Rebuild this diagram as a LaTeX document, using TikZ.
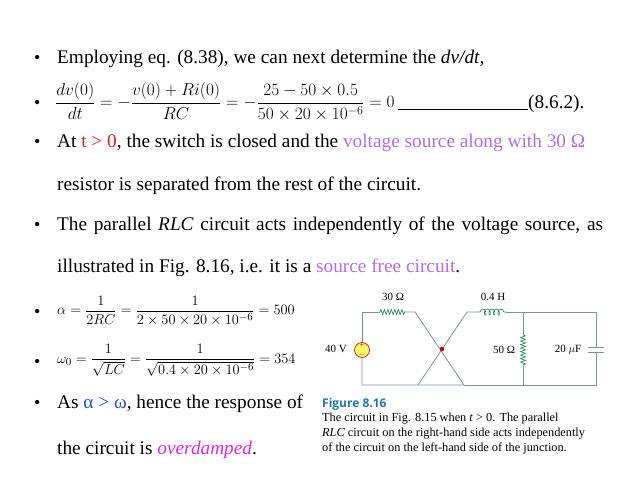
\documentclass[tikz,border=0pt]{standalone}
\usepackage{fontspec}
\setmainfont{Liberation Serif}
\newfontfamily\capsans{Open Sans}
\usetikzlibrary{decorations.pathmorphing}
\definecolor{redc}{RGB}{220,30,40}
\definecolor{bluec}{RGB}{40,80,200}
\definecolor{magc}{RGB}{220,40,220}
\definecolor{violc}{RGB}{175,110,225}
\definecolor{wirec}{RGB}{120,145,170}
\definecolor{resc}{RGB}{40,140,90}
\definecolor{figc}{RGB}{30,120,160}
\begin{document}
\begin{tikzpicture}[x=1pt,y=-1pt,
  txt/.style={anchor=base west,inner sep=0pt,font=\fontsize{19.3}{21}\selectfont},
  bul/.style={anchor=base west,inner sep=0pt,font=\fontsize{18}{20}\selectfont},
  eq/.style={anchor=west,inner sep=0pt,font=\fontsize{15}{17}\selectfont},
  wire/.style={draw=wirec,line width=0.8pt},
  zig/.style={draw=resc,line width=0.7pt,decorate,decoration={zigzag,segment length=3.5pt,amplitude=2.5pt}},
  lab/.style={inner sep=0pt,font=\fontsize{11}{12}\selectfont},
  captxt/.style={anchor=base west,inner sep=0pt,font=\fontsize{12.3}{13}\selectfont}]
\useasboundingbox (0,0) rectangle (638,493);
% bullets
\foreach \n/\y in {b1/63,b2/108,b3/147,b4/230,b5/317,b6/367,b7/408}{\node[bul] (\n) at (34,\y) {•};}
\node[txt] (t1) at (57,63) {Employing eq. (8.38), we can next determine the \textit{dv/dt,}};
\node[eq,font=\fontsize{17.5}{19}\selectfont] (e1) at (55,102) {$\displaystyle\frac{dv(0)}{dt}=-\frac{v(0)+Ri(0)}{RC}=-\frac{25-50\times0.5}{50\times20\times10^{-6}}=0$};
\node[txt] (t2) at (398,108) {\underline{\hspace{130pt}}(8.6.2).};
\node[txt] (t3) at (57,147) {At \textcolor{redc}{t > 0}, the switch is closed and the \textcolor{violc}{voltage source along with 30 Ω}};
\node[txt] (t4) at (57,190) {resistor is separated from the rest of the circuit.};
\node[txt] (t5) at (57,230) {\makebox[546pt][s]{The parallel \textit{RLC} circuit acts independently of the voltage source, as}};
\node[txt] (t6) at (57,272) {illustrated in Fig. 8.16, i.e. it is a \textcolor{violc}{source free circuit}.};
\node[eq] (e2) at (57,311) {$\displaystyle\alpha=\frac{1}{2RC}=\frac{1}{2\times50\times20\times10^{-6}}=500$};
\node[eq] (e3) at (57,360) {$\displaystyle\omega_0=\frac{1}{\sqrt{LC}}=\frac{1}{\sqrt{0.4\times20\times10^{-6}}}=354$};
\node[txt] (t7) at (57,408) {As \textcolor{bluec}{α > ω}, hence the response of};
\node[txt] (t8) at (57,454) {the circuit is \textit{\textcolor{magc}{overdamped}}.};
% circuit
\coordinate (tl) at (362,312); \coordinate (bl) at (362,385);
\coordinate (r1a) at (380,312); \coordinate (r1b) at (405,312);
\coordinate (xa) at (415,312); \coordinate (xb) at (418,385);
\coordinate (xc) at (467,312); \coordinate (xd) at (464,385);
\coordinate (la) at (480,312); \coordinate (lb) at (506,312);
\coordinate (n1) at (523,312); \coordinate (n2) at (523,385);
\coordinate (c1) at (596,312); \coordinate (c2) at (596,385);
\node[circle,draw=red!70!black,fill=yellow!60,minimum size=15pt,inner sep=0pt,line width=0.6pt] (src) at (362,350) {};
\node[lab,red!70!black,font=\fontsize{8}{8}\selectfont] (sp) at (362,345) {+};
\node[lab,red!70!black,font=\fontsize{8}{8}\selectfont] (sm) at (362,355) {--};
\path[wire] (src.north) -- (tl) -- (r1a);
\path[zig] (r1a) -- (r1b);
\path[wire] (r1b) -- (xa) -- (xd) -- (xb) -- (bl) -- (src.south);
\path[wire] (xb) -- (xc) -- (la);
\draw[resc,line width=0.7pt,decorate,decoration={coil,aspect=0.6,segment length=4.5pt,amplitude=3pt}] (la) -- (lb);
\path[wire] (lb) -- (c1) -- (596,347.5);
\path[wire] (596,352.5) -- (c2) -- (xd);
\draw[wirec,line width=1pt] (588,347.5) -- (604,347.5) (588,352.5) -- (604,352.5);
\path[wire] (n1) -- (523,335); \path[zig] (523,335) -- (523,366); \path[wire] (523,366) -- (n2);
\node[circle,fill=red!80!black,inner sep=0pt,minimum size=4.5pt] (jn) at (442,349) {};
\node[lab] (l1) at (393,297) {30 Ω};
\node[lab] (l2) at (493,297) {0.4 H};
\node[lab] (l3) at (336,349) {40 V};
\node[lab] (l4) at (504,350) {50 Ω};
\node[lab] (l5) at (568,350) {20 $\mu$F};
\node[captxt,font=\capsans\bfseries\fontsize{12}{13}\selectfont,text=figc] (fg) at (322,407) {Figure 8.16};
\node[captxt] (c1t) at (322,421) {The circuit in Fig. 8.15 when \textit{t} > 0. The parallel};
\node[captxt] (c2t) at (322,436) {\textit{RLC} circuit on the right-hand side acts independently};
\node[captxt] (c3t) at (322,451) {of the circuit on the left-hand side of the junction.};
\end{tikzpicture}
\end{document}
